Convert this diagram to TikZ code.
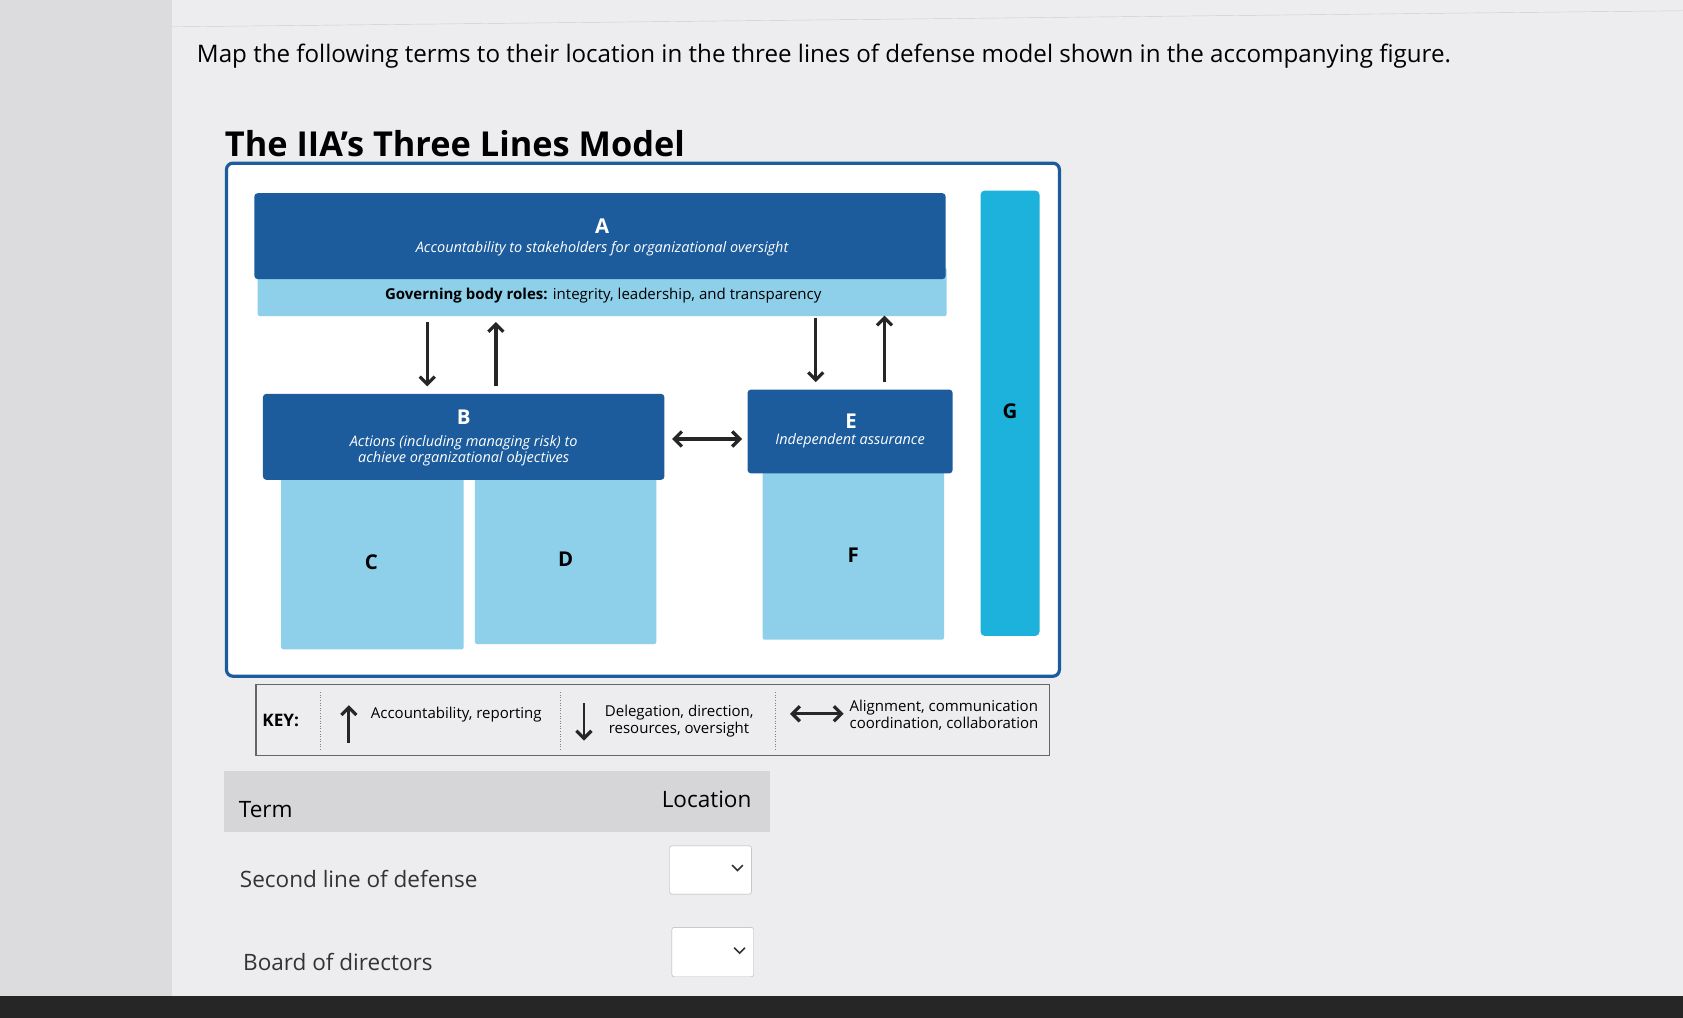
\documentclass[tikz,border=0pt]{standalone}
\usepackage{fontspec}
\setmainfont{Open Sans}
\usetikzlibrary{arrows.meta}
\definecolor{dblue}{HTML}{1D5C9C}
\definecolor{lblue}{HTML}{8ECFEA}
\definecolor{cyanb}{HTML}{1DB2DB}
\definecolor{pagebg}{HTML}{EDEDEF}
\definecolor{leftbg}{HTML}{DCDCDF}
\definecolor{hdr}{HTML}{D6D6D8}
\tikzset{
 dbox/.style={fill=dblue,rounded corners=3pt,draw=none},
 lbox/.style={fill=lblue,rounded corners=2pt,draw=none},
 wt/.style={text=white,font=\fontsize{13.5}{15.5}\selectfont\itshape,align=center},
 lab/.style={font=\fontsize{19}{20}\selectfont\bfseries},
 arr/.style={-{Straight Barb[length=7pt,width=14pt,line width=3pt]},line width=3pt,draw=black!85},
 darr/.style={{Straight Barb[length=7pt,width=14pt,line width=3pt]}-{Straight Barb[length=7pt,width=14pt,line width=3pt]},line width=3pt,draw=black!85},
 keyt/.style={font=\fontsize{14}{16}\selectfont,align=left,anchor=west},
}
\begin{document}
\begin{tikzpicture}[x=1pt,y=-1pt]
\useasboundingbox (0,0) rectangle (1568,948);
\fill[pagebg] (0,0) rectangle (1568,948);
\fill[leftbg] (0,0) rectangle (160,948);
\fill[black!85] (0,928) rectangle (1568,948);
\draw[black!20] (160,25) -- (1568,10);
\node[anchor=west,font=\fontsize{22.5}{25}\selectfont] (q) at (180,52) {Map the following terms to their location in the three lines of defense model shown in the accompanying figure.};
\node[anchor=west,font=\fontsize{32}{36}\selectfont\bfseries] (title) at (206,134) {The IIA’s Three Lines Model};
\draw[dblue,line width=3pt,rounded corners=6pt,fill=white] (211,152) rectangle (987,630);
% A
\node[lbox,minimum width=642pt,minimum height=45pt] (band) at (561,272) {};
\node[font=\fontsize{14}{16}\selectfont] at (562,275) {\textbf{Governing body roles:} integrity, leadership, and transparency};
\node[dbox,minimum width=644pt,minimum height=80pt] (A) at (559,220) {};
\node[lab,text=white] at (561,211) {A};
\node[wt] at (561,232) {Accountability to stakeholders for organizational oversight};
% arrows
\coordinate (a1s) at (398,300); \coordinate (a1e) at (398,360);
\coordinate (a2s) at (462,360); \coordinate (a2e) at (462,300);
\coordinate (a3s) at (760,296); \coordinate (a3e) at (760,356);
\coordinate (a4s) at (824,356); \coordinate (a4e) at (824,294);
\draw[arr] (a1s) -- (a1e); \draw[arr] (a2s) -- (a2e);
\draw[arr] (a3s) -- (a3e); \draw[arr] (a4s) -- (a4e);
% C D
\node[lbox,minimum width=170pt,minimum height=160pt] (C) at (347,525) {};
\node[lab] at (346,524) {C};
\node[lbox,minimum width=169pt,minimum height=156pt] (D) at (527,522) {};
\node[lab] at (527,521) {D};
% B
\node[dbox,minimum width=374pt,minimum height=80pt] (B) at (432,407) {};
\node[lab,text=white] at (432,389) {B};
\node[wt] at (432,420) {Actions (including managing risk) to\\achieve organizational objectives};
% F E
\node[lbox,minimum width=169pt,minimum height=156pt] (F) at (795,518) {};
\node[lab] at (795,517) {F};
\node[dbox,minimum width=191pt,minimum height=78pt] (E) at (792,402) {};
\node[lab,text=white] at (793,392) {E};
\node[wt] at (792,411) {Independent assurance};
\draw[darr] ([xshift=7pt,yshift=-2pt]B.east) -- ([xshift=-5pt,yshift=-2pt]E.west |- B.east);
% G
\node[fill=cyanb,rounded corners=4pt,minimum width=55pt,minimum height=415pt] (G) at (941,385) {};
\node[lab] at (941,383) {G};
% key
\node[draw=black!60,line width=1pt,minimum width=739pt,minimum height=66pt] (key) at (608,671) {};
\node[keyt,font=\fontsize{16}{18}\selectfont\bfseries] at (241,671) {KEY:};
\draw[black!50,dotted] (298,645)--(298,698);
\draw[arr,line width=2.5pt] (325,692) -- (325,657);
\node[keyt] at (342,666) {Accountability, reporting};
\draw[black!50,dotted] (522,645)--(522,698);
\draw[arr,line width=2.5pt] (544,655) -- (544,690);
\node[keyt] at (560,672) {Delegation, direction,\\\ resources, oversight};
\draw[black!50,dotted] (722,645)--(722,698);
\draw[darr,line width=2.5pt] (736,665) -- (786,665);
\node[keyt] at (788,666) {Alignment, communication\\coordination, collaboration};
% table
\fill[hdr] (209,718) rectangle (717,775);
\node[anchor=west,font=\fontsize{21}{24}\selectfont] at (219,754) {Term};
\node[anchor=west,font=\fontsize{21}{24}\selectfont] at (613,745) {Location};
\node[anchor=west,font=\fontsize{21}{24}\selectfont,text=black!80] at (220,819) {Second line of defense};
\node[anchor=west,font=\fontsize{21}{24}\selectfont,text=black!80] at (223,896) {Board of directors};
\draw[black!30,fill=white,rounded corners=2pt] (624,788) rectangle (700,833);
\draw[black!80,line width=1.5pt] (682,806)--(687,811)--(692,806);
\draw[black!30,fill=white,rounded corners=2pt] (626,864) rectangle (702,910);
\draw[black!80,line width=1.5pt] (684,883)--(689,888)--(694,883);
\end{tikzpicture}
\end{document}
